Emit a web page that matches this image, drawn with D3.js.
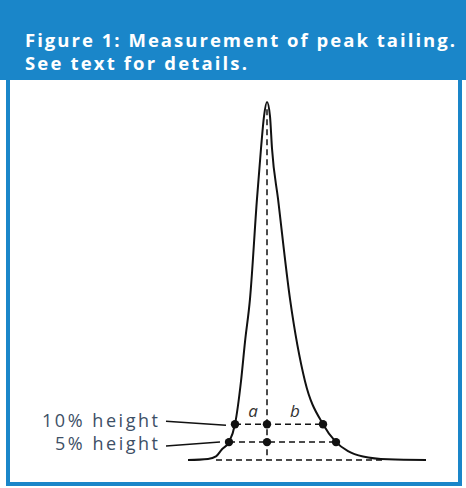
<!DOCTYPE html>
<html><head><meta charset="utf-8">
<script src="https://cdn.jsdelivr.net/npm/d3@7"></script>
<style>body{margin:0;background:#fff}</style></head>
<body><svg id="c" width="466" height="488"></svg>
<script>
const title = ["Figure 1: Measurement of peak tailing.", "See text for details."];
const titleWidths = [430, 222];
const peakX = [0,20,28,34,41,47,53,57,62,69,73,76,79,82,84,90,102,117,135,148,160,175,200,238];
const peakY = [0,0.003,0.01,0.03,0.05,0.1,0.22,0.33,0.45,0.73,0.87,0.96,1,0.96,0.87,0.73,0.45,0.22,0.1,0.05,0.025,0.01,0.002,0];
const levels = [{name:"10% height", h:0.1, left:47, right:135, label:"a", label2:"b", w:116},
                {name:"5% height", h:0.05, left:41, right:148, w:103}];
const apexX = 79;
const baseDash = [28, 197];

const svg = d3.select("#c");
const blue = "#1a86c9";
svg.append("rect").attr("x",0).attr("y",0).attr("width",466).attr("height",80).attr("fill",blue);
svg.append("rect").attr("x",8).attr("y",8).attr("width",452).attr("height",476).attr("fill","none").attr("stroke",blue).attr("stroke-width",4);
svg.selectAll("text.t").data(title).join("text").attr("x",25).attr("y",(d,i)=>47+i*23)
  .attr("fill","#fff").attr("font-family","Open Sans, sans-serif").attr("font-weight","bold").attr("font-size",18.5)
  .attr("textLength",(d,i)=>titleWidths[i]).attr("lengthAdjust","spacing").text(d=>d);

const x = d3.scaleLinear().domain([0,238]).range([188,426]);
const y = d3.scaleLinear().domain([0,1]).range([460,102]);
const pts = peakX.map((v,i)=>[v,peakY[i]]);
svg.append("path").datum(pts).attr("fill","none").attr("stroke","#111").attr("stroke-width",2)
  .attr("d", d3.line().x(d=>x(d[0])).y(d=>y(d[1])).curve(d3.curveMonotoneX));

const dash = "6,4";
svg.append("line").attr("x1",x(apexX)).attr("x2",x(apexX)).attr("y1",y(0.98)).attr("y2",y(0))
  .attr("stroke","#111").attr("stroke-width",1.5).attr("stroke-dasharray",dash);
svg.append("line").attr("x1",x(baseDash[0])).attr("x2",x(baseDash[1])).attr("y1",y(0)).attr("y2",y(0))
  .attr("stroke","#111").attr("stroke-width",1.5).attr("stroke-dasharray",dash);
levels.forEach((l,i)=>{
  svg.append("line").attr("x1",x(l.left)).attr("x2",x(l.right)).attr("y1",y(l.h)).attr("y2",y(l.h))
    .attr("stroke","#111").attr("stroke-width",1.5).attr("stroke-dasharray",dash);
  [l.left, apexX, l.right].forEach(v=>svg.append("circle").attr("cx",x(v)).attr("cy",y(l.h)).attr("r",4.2).attr("fill","#111"));
  svg.append("text").attr("x",158-l.w).attr("y",y(l.h)+ (i?8:3))
    .attr("font-family","Open Sans, sans-serif").attr("font-size",18).attr("textLength",l.w).attr("lengthAdjust","spacing")
    .attr("fill","#3d4f66").text(l.name);
  svg.append("line").attr("x1",166).attr("y1",y(l.h)+(i?4:-3)).attr("x2",x(l.left)-9).attr("y2",y(l.h)+(i?0:1))
    .attr("stroke","#111").attr("stroke-width",1.5);
  if(l.label){
    svg.append("text").attr("x",(x(l.left)+x(apexX))/2+2).attr("y",y(l.h)-7).attr("text-anchor","middle")
      .attr("font-family","Open Sans, sans-serif").attr("font-style","italic").attr("font-size",17).attr("fill","#333").text(l.label);
    svg.append("text").attr("x",(x(l.right)+x(apexX))/2).attr("y",y(l.h)-7).attr("text-anchor","middle")
      .attr("font-family","Open Sans, sans-serif").attr("font-style","italic").attr("font-size",17).attr("fill","#333").text(l.label2);
  }
});
</script></body></html>
